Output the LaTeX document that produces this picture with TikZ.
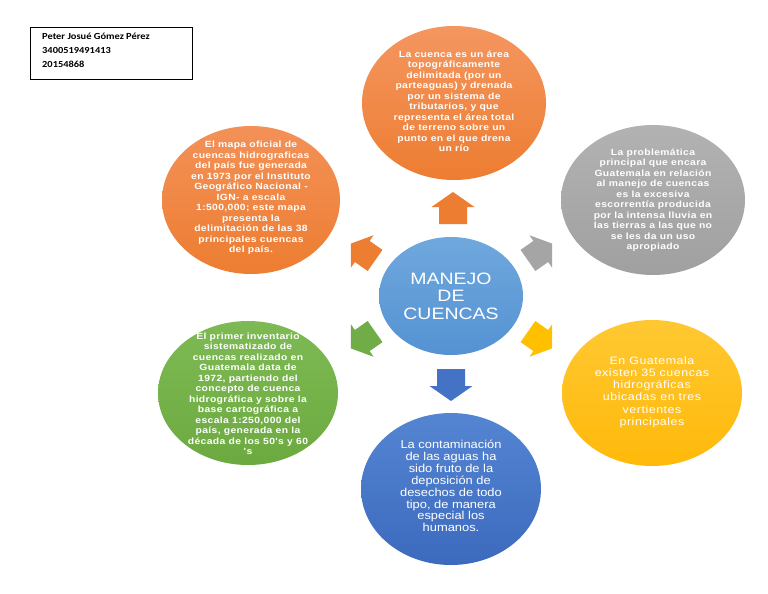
\documentclass[tikz,border=0pt]{standalone}
\usepackage{fontspec}
\setmainfont{Liberation Sans}
\newfontfamily\smallf[FakeStretch=1.15,LetterSpace=4]{Liberation Sans}
\newfontfamily\yelf[FakeStretch=1.15,LetterSpace=5]{Liberation Sans}
\newfontfamily\widef[FakeStretch=1.12]{Liberation Sans}
\newfontfamily\centerf[FakeStretch=1.18]{Liberation Sans}
\newfontfamily\calib[FakeStretch=1.12]{Carlito}
\usetikzlibrary{shapes.geometric}
\begin{document}
\begin{tikzpicture}[x=1pt,y=-1pt,
  bubble/.style={inner sep=0pt, text=white, align=center},
  smalltxt/.style={font=\smallf\bfseries\fontsize{9}{10.5}\selectfont},
  barrow/.pic={\fill[pic actions] (-16,-14) -- (1,-14) -- (1,-21.5) -- (16,0) -- (1,21.5) -- (1,14) -- (-16,14) -- cycle;}
]
\useasboundingbox (0,0) rectangle (768,594);
\fill[white] (0,0) rectangle (768,594);
% info box
\draw[line width=0.8pt] (30,27) rectangle (192,79);
\node[anchor=north west, align=left, inner sep=0pt, font=\calib\bfseries\fontsize{9.3}{14}\selectfont] (info) at (42,32.5) {Peter Josué Gómez Pérez\\3400519491413\\20154868};
% ellipses
\shade[top color={rgb,255:red,244;green,150;blue,96}, bottom color={rgb,255:red,237;green,125;blue,49}] (454,103) ellipse [x radius=92, y radius=77];
\node[bubble, smalltxt] (top) at (454,101) {La cuenca es un área\\topográficamente\\delimitada (por un\\parteaguas) y drenada\\por un sistema de\\tributarios, y que\\representa el área total\\de terreno sobre un\\punto en el que drena\\un río};
\shade[top color={rgb,255:red,243;green,145;blue,88}, bottom color={rgb,255:red,237;green,125;blue,49}] (251,200) ellipse [x radius=89, y radius=74];
\node[bubble, smalltxt] (lt) at (251,198) {El mapa oficial de\\cuencas hidrograficas\\del país fue generada\\en 1973 por el Instituto\\Geográfico Nacional -\\IGN- a escala\\1:500,000; este mapa\\presenta la\\delimitación de las 38\\principales cuencas\\del país.};
\shade[top color={rgb,255:red,178;green,178;blue,178}, bottom color={rgb,255:red,160;green,160;blue,160}] (653,200) ellipse [x radius=92, y radius=75];
\node[bubble, smalltxt] (rt) at (653,200) {La problemática\\principal que encara\\Guatemala en relación\\al manejo de cuencas\\es la excesiva\\escorrentía producida\\por la intensa lluvia en\\las tierras a las que no\\se les da un uso\\apropiado};
\shade[top color={rgb,255:red,126;green,186;blue,84}, bottom color={rgb,255:red,108;green,170;blue,64}] (248,393) ellipse [x radius=90, y radius=72];
\node[bubble, smalltxt] (lb) at (248,394) {El primer inventario\\sistematizado de\\cuencas realizado en\\Guatemala data de\\1972, partiendo del\\concepto de cuenca\\hidrográfica y sobre la\\base cartográfica a\\escala 1:250,000 del\\país, generada en la\\década de los 50's y 60\\'s};
\shade[top color={rgb,255:red,255;green,200;blue,50}, bottom color={rgb,255:red,255;green,185;blue,10}] (652,393) ellipse [x radius=90, y radius=73];
\node[bubble, font=\yelf\fontsize{10.8}{12.3}\selectfont] (rb) at (652,392) {En Guatemala\\existen 35 cuencas\\hidrográficas\\ubicadas en tres\\vertientes\\principales};
\shade[top color={rgb,255:red,84;green,133;blue,210}, bottom color={rgb,255:red,60;green,106;blue,190}] (451,489) ellipse [x radius=90, y radius=76];
\node[bubble, font=\widef\fontsize{11.5}{11.9}\selectfont] (bot) at (451,486) {La contaminación\\de las aguas ha\\sido fruto de la\\deposición de\\desechos de todo\\tipo, de manera\\especial los\\humanos.};
% center
\shade[top color={rgb,255:red,112;green,168;blue,221}, bottom color={rgb,255:red,84;green,146;blue,211}] (451,296) ellipse [x radius=72, y radius=59];
\node[bubble, font=\centerf\fontsize{16.5}{17.5}\selectfont] (center) at (451,296) {MANEJO\\DE\\CUENCAS};
% arrows
\pic[rotate=90, fill={rgb,255:red,237;green,125;blue,49}] at (453,208) {barrow};
\pic[rotate=-90, fill={rgb,255:red,68;green,114;blue,196}] at (451,385) {barrow};
\pic[rotate=145, scale=0.92, fill={rgb,255:red,237;green,125;blue,49}] at (363,252) {barrow};
\pic[rotate=35, scale=0.92, fill={rgb,255:red,165;green,165;blue,165}] at (540,252) {barrow};
\pic[rotate=215, scale=0.92, fill={rgb,255:red,112;green,173;blue,71}] at (363,340) {barrow};
\pic[rotate=-35, scale=0.92, fill={rgb,255:red,255;green,192;blue,0}] at (540,340) {barrow};
\end{tikzpicture}
\end{document}
